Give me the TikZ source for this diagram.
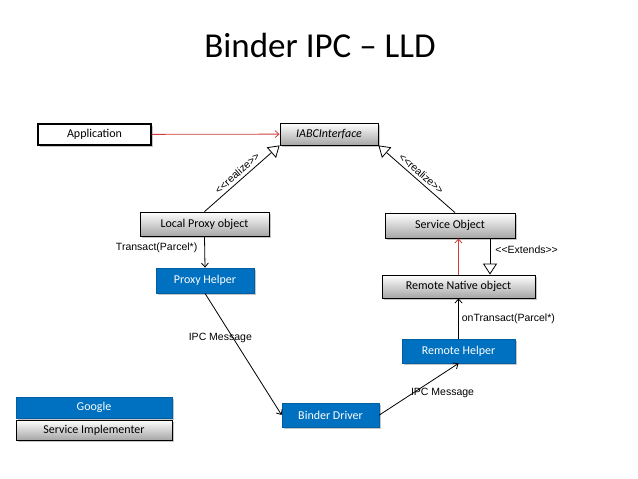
\documentclass[tikz,border=0pt]{standalone}
\usepackage{fontspec}
\setmainfont{Carlito}
\newfontfamily\arialfont{Liberation Sans}
\usetikzlibrary{arrows.meta,shadows}
\definecolor{binderblue}{RGB}{0,112,192}
\definecolor{linkred}{RGB}{210,60,60}
\tikzset{
  boxshadow/.style={drop shadow={shadow xshift=1.5pt,shadow yshift=-1.5pt,opacity=.45}},
  classbox/.style={draw, top color=white, bottom color=black!35, boxshadow,
    inner sep=0pt, font=\fontsize{12}{14}\selectfont},
  helperbox/.style={draw=binderblue!85!black, fill=binderblue, text=white, boxshadow,
    inner sep=0pt, font=\fontsize{12}{14}\selectfont},
  msglabel/.style={font=\arialfont\fontsize{10.5}{12}\selectfont, inner sep=1pt},
  call/.style={-{Straight Barb[length=4pt,width=7pt]}},
  realize/.style={-{Triangle[open,length=11pt,width=14pt]}, fill=white},
}
\begin{document}
\begin{tikzpicture}[x=1pt,y=-1pt,line width=.8pt]
\useasboundingbox (0,0) rectangle (638,479);
% title
\node (title) at (320,45) {\fontsize{35}{40}\selectfont Binder IPC -- LLD};
% classes
\node[draw, line width=1.4pt, fill=white, boxshadow, minimum width=113, minimum height=21,
  font=\fontsize{12}{14}\selectfont] (app) at (94.5,134.5) {Application};
\node[classbox, minimum width=98, minimum height=22, font=\fontsize{12}{14}\selectfont\itshape]
  (iface) at (329,134) {IABCInterface};
\node[classbox, minimum width=129, minimum height=24] (lpo) at (204.5,224) {Local Proxy object};
\node[classbox, minimum width=130, minimum height=25] (so) at (450,225.5) {Service Object};
\node[classbox, minimum width=153, minimum height=23] (rno) at (458.5,286.5) {Remote Native object};
% helpers and driver
\node[helperbox, minimum width=98, minimum height=25] (ph) at (205,280.5) {Proxy Helper};
\node[helperbox, minimum width=113, minimum height=24] (rh) at (458.5,351) {Remote Helper};
\node[helperbox, minimum width=97, minimum height=24] (bd) at (330.5,415) {Binder Driver};
% legend
\node[helperbox, minimum width=156, minimum height=21] (google) at (94,407.5) {Google};
\node[classbox, minimum width=156, minimum height=20] (impl) at (94,430) {Service Implementer};

% connectors
\draw[call, draw=linkred] (app) -- (iface);
\draw[realize] (lpo.north) -- (iface.south west)
  node[midway, sloped, above=2, msglabel] {<<realize>>};
\draw[realize] ([xshift=5]so.north) -- (iface.south east)
  node[midway, sloped, above=2, msglabel] {<<realize>>};
\draw[call] (lpo.south) -- (ph.north) node[pos=.35, left=6, msglabel] {Transact(Parcel*)};
\draw[call] (ph.south) -- (bd.west) node[pos=.37, xshift=-13, msglabel] {IPC Message};
\draw[call] (bd.east) -- (rh.south) node[pos=.42, anchor=west, xshift=-3, msglabel] {IPC Message};
\draw[call] (rh.north) -- (rno.south) node[midway, right=2, msglabel] {onTransact(Parcel*)};
\draw[call, draw=linkred] (rno.north) -- (rno.north |- so.south);
\draw[realize] ([xshift=40]so.south) -- ([xshift=40]so.south |- rno.north)
  node[pos=.3, right=4, msglabel] {<<Extends>>};
\end{tikzpicture}
\end{document}
